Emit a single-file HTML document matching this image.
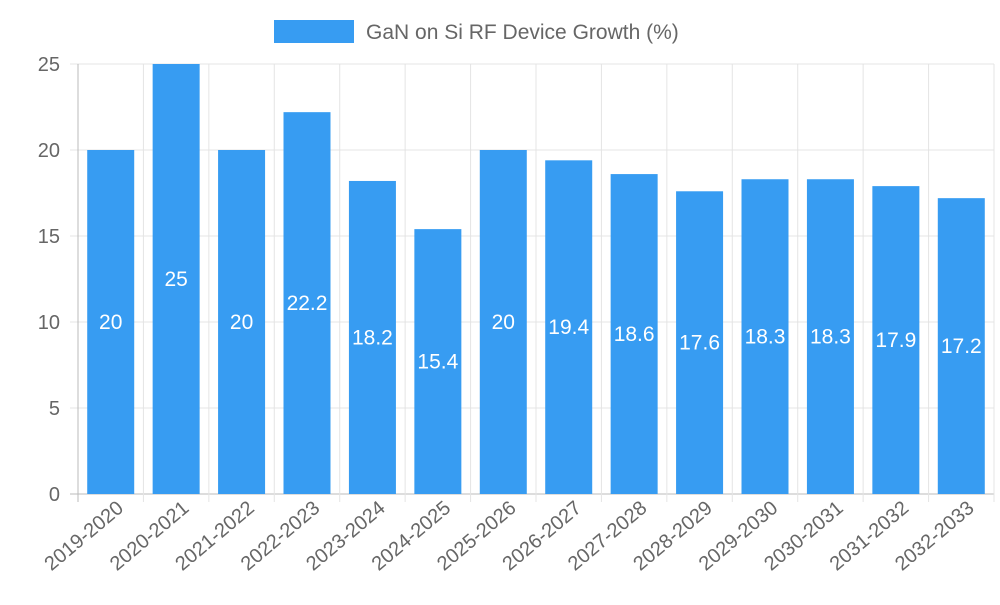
<!DOCTYPE html>
<html><head><meta charset="utf-8"><style>
body{margin:0;background:#fff;}
svg text{font-family:"Liberation Sans",sans-serif;}
</style></head><body>
<svg id="chart" width="1000" height="600">
<g>
<rect x="274" y="20" width="80" height="23" fill="#379cf2"></rect>
<text x="366" y="39" font-size="21" fill="#666">GaN on Si RF Device Growth (%)</text>
</g>
<g id="grid"></g>
<g id="bars"></g>
<g id="axes"></g>
</svg>
<script>
const categories=["2019-2020","2020-2021","2021-2022","2022-2023","2023-2024","2024-2025","2025-2026","2026-2027","2027-2028","2028-2029","2029-2030","2030-2031","2031-2032","2032-2033"];
const values=[20,25,20,22.2,18.2,15.4,20,19.4,18.6,17.6,18.3,18.3,17.9,17.2];
const yTicks=[0,5,10,15,20,25];
const NS="http://www.w3.org/2000/svg";
const L=78,R=994,T=64,B=494,yMax=25;
const bw=(R-L)/categories.length;
const y=v=>B-(v/yMax)*(B-T);
const x=i=>L+bw*i;
function mk(tag,attrs,parent,txt){const e=document.createElementNS(NS,tag);for(const k in attrs)e.setAttribute(k,attrs[k]);if(txt!==undefined)e.textContent=txt;parent.appendChild(e);return e;}
const grid=document.getElementById('grid'),bars=document.getElementById('bars'),axes=document.getElementById('axes');
yTicks.forEach(t=>{
 const g=mk('line',{x1:70,x2:R,y1:y(t),y2:y(t),stroke:t===0?'#bbb':'#e4e4e4','stroke-width':1},grid);
 
 
 const lb=mk('text',{x:60,y:y(t)+7,'text-anchor':'end','font-size':20,fill:'#666'},axes,String(t));
 
 
});
for(let i=0;i<=categories.length;i++){
 const gl=mk('line',{x1:x(i),x2:x(i),y1:T,y2:B+8,stroke:i===0?'#bbb':'#e4e4e4','stroke-width':1},grid);
 
 
}
categories.forEach((c,i)=>{
 const cx=x(i)+bw/2,w=47;
 const r=mk('rect',{x:cx-w/2,y:y(values[i]),width:w,height:B-y(values[i]),fill:'#379cf2'},bars);
 
 
 const vl=mk('text',{x:cx,y:(y(values[i])+B)/2+7,'text-anchor':'middle','font-size':21,fill:'#fff'},bars,String(values[i]));
 
 
 const xl=mk('text',{x:cx+14,y:510,'text-anchor':'end','font-size':20,fill:'#666',transform:`rotate(-40 ${cx+14} 510)`},axes,c);
 
 
});
</script>
</body></html>
